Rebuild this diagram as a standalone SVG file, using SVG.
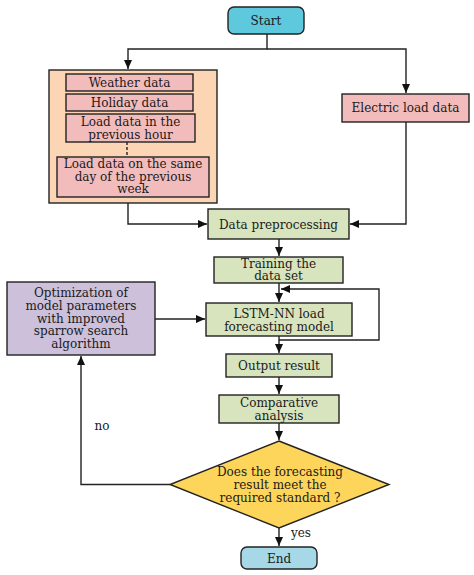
<svg xmlns="http://www.w3.org/2000/svg" width="474" height="575" viewBox="0 0 474 575">
<style>
.b{stroke:#222;stroke-width:1.4}
.t{font-family:"DejaVu Serif","Liberation Serif",serif;font-size:12px;fill:#1a1a1a;text-anchor:middle}
.e{fill:none;stroke:#222;stroke-width:1.4}
.pink{fill:#f3bcbc}
.green{fill:#d8e4bd}
</style>
<defs>
<marker id="ah" markerUnits="userSpaceOnUse" markerWidth="10" markerHeight="10" refX="9" refY="4" orient="auto">
<path d="M0,0 L9,4 L0,8 Z" fill="#111"/>
</marker>
</defs>
<rect width="474" height="575" fill="#fff"/>
<g id="start">
<rect class="b" x="228" y="7" width="76" height="27" rx="6" fill="#5ec8dc"/>
<text class="t" x="266" y="25">Start</text>
</g>
<g id="inputs">
<rect class="b" x="49" y="70" width="168" height="133" fill="#fcd5b5"/>
</g>
<g id="weather">
<rect class="b pink" x="66" y="74" width="127" height="17"/>
<text class="t" x="129.5" y="86.5">Weather data</text>
</g>
<g id="holiday">
<rect class="b pink" x="66" y="94" width="127" height="17"/>
<text class="t" x="129.5" y="106.5">Holiday data</text>
</g>
<g id="prevhour">
<rect class="b pink" x="66" y="114" width="129" height="28"/>
<text class="t" x="130.5" y="125.5">Load data in the</text>
<text class="t" x="130.5" y="138.5">previous hour</text>
</g>
<g id="prevweek">
<rect class="b pink" x="57" y="157" width="152" height="40"/>
<text class="t" x="133" y="168">Load data on the same</text>
<text class="t" x="133" y="180.5">day of the previous</text>
<text class="t" x="133" y="193">week</text>
</g>
<g id="electric">
<rect class="b pink" x="342" y="94" width="127" height="28"/>
<text class="t" x="405.5" y="112">Electric load data</text>
</g>
<g id="preprocessing">
<rect class="b green" x="208" y="209" width="141" height="30"/>
<text class="t" x="278.5" y="228.5">Data preprocessing</text>
</g>
<g id="training">
<rect class="b green" x="214" y="257" width="129" height="26"/>
<text class="t" x="278.5" y="267.5">Training the</text>
<text class="t" x="278.5" y="280">data set</text>
</g>
<g id="lstm">
<rect class="b green" x="206" y="303" width="146" height="33"/>
<text class="t" x="279" y="317.5">LSTM-NN load</text>
<text class="t" x="279" y="330.5">forecasting model</text>
</g>
<g id="optimization">
<rect class="b" x="7" y="282" width="148" height="73" fill="#ccc0da"/>
<text class="t" x="81" y="297">Optimization of</text>
<text class="t" x="81" y="310">model parameters</text>
<text class="t" x="81" y="322.5">with improved</text>
<text class="t" x="81" y="335">sparrow search</text>
<text class="t" x="81" y="347.5">algorithm</text>
</g>
<g id="output">
<rect class="b green" x="226" y="354" width="106" height="23"/>
<text class="t" x="279" y="369.5">Output result</text>
</g>
<g id="comparative">
<rect class="b green" x="219" y="395" width="120" height="28"/>
<text class="t" x="279" y="407">Comparative</text>
<text class="t" x="279" y="419.5">analysis</text>
</g>
<g id="decision">
<polygon class="b" points="279,441 389,484.5 279,528 170,484.5" fill="#fdd55a"/>
<text class="t" x="280" y="476">Does the forecasting</text>
<text class="t" x="280" y="489">result meet the</text>
<text class="t" x="280" y="501.5">required standard ?</text>
</g>
<g id="end">
<rect class="b" x="241" y="547" width="76" height="22" rx="6" fill="#a6d8e8"/>
<text class="t" x="279" y="562.5">End</text>
</g>
<g id="connectors">
<path class="e" d="M267,34 V49 H128 V69" marker-end="url(#ah)"/>
<path class="e" d="M267,49 H406 V93" marker-end="url(#ah)"/>
<path class="e" d="M128,203 V224 H207" marker-end="url(#ah)"/>
<path class="e" d="M406,122 V224 H350" marker-end="url(#ah)"/>
<path class="e" d="M279,239 V256" marker-end="url(#ah)"/>
<path class="e" d="M279,283 V302" marker-end="url(#ah)"/>
<path class="e" d="M279,340 H379 V289 H281" marker-end="url(#ah)"/>
<path class="e" d="M279,336 V353" marker-end="url(#ah)"/>
<path class="e" d="M279,377 V394" marker-end="url(#ah)"/>
<path class="e" d="M279,423 V440" marker-end="url(#ah)"/>
<path class="e" d="M170,484.5 H81 V356" marker-end="url(#ah)"/>
<path class="e" d="M279,528 V546" marker-end="url(#ah)"/>
<path class="e" d="M155,319 H205" marker-end="url(#ah)"/>
<path class="e" d="M127,142 V157" stroke-dasharray="3,2" stroke-width="1"/>
<text class="t" x="102" y="430">no</text>
<text class="t" x="301" y="537">yes</text>
</g>
</svg>
